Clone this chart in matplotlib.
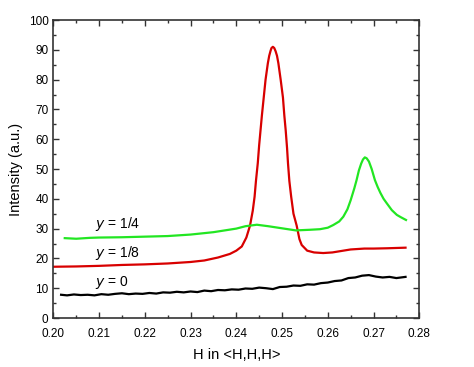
import matplotlib
matplotlib.use('Agg')
import matplotlib.pyplot as plt
from matplotlib.ticker import MultipleLocator

plt.rcParams['font.family'] = ['Liberation Sans', 'DejaVu Sans']

# y = 0 (black)
h_black = [0.2017, 0.2030, 0.2045, 0.2060, 0.2075, 0.2090, 0.2105, 0.2120, 0.2135, 0.2150,
           0.2165, 0.2180, 0.2195, 0.2210, 0.2225, 0.2240, 0.2255, 0.2270, 0.2285, 0.2300,
           0.2315, 0.2330, 0.2345, 0.2360, 0.2375, 0.2390, 0.2405, 0.2420, 0.2435, 0.2450,
           0.2465, 0.2480, 0.2495, 0.2510, 0.2525, 0.2540, 0.2555, 0.2570, 0.2585, 0.2600,
           0.2615, 0.2630, 0.2645, 0.2660, 0.2675, 0.2690, 0.2705, 0.2720, 0.2735, 0.2750,
           0.2770]
i_black = [7.8, 7.6, 7.9, 7.7, 7.8, 7.6, 8.0, 7.8, 8.1, 8.3,
           8.0, 8.2, 8.1, 8.4, 8.2, 8.6, 8.5, 8.8, 8.6, 8.9,
           8.7, 9.2, 9.0, 9.4, 9.3, 9.6, 9.5, 9.9, 9.8, 10.2,
           10.0, 9.7, 10.4, 10.5, 10.9, 10.8, 11.3, 11.2, 11.7, 11.9,
           12.4, 12.6, 13.4, 13.6, 14.2, 14.4, 13.9, 13.6, 13.8, 13.4,
           13.8]

# y = 1/8 (red)
h_red = [0.2000, 0.2050, 0.2100, 0.2150, 0.2200, 0.2250, 0.2300, 0.2330, 0.2360, 0.2386,
         0.2400, 0.2412, 0.2422, 0.2430, 0.2436, 0.2440, 0.2443, 0.2447, 0.2450, 0.2453,
         0.2456, 0.2460, 0.2464, 0.2469, 0.2472, 0.2475, 0.2477, 0.2480, 0.2483, 0.2486,
         0.2489, 0.2492, 0.2497, 0.2502, 0.2505, 0.2508, 0.2511, 0.2513, 0.2516, 0.2520,
         0.2525, 0.2532, 0.2538, 0.2543, 0.2555, 0.2570, 0.2590, 0.2610, 0.2630, 0.2650,
         0.2680, 0.2700, 0.2730, 0.2770]
i_red = [17.2, 17.3, 17.5, 17.8, 18.0, 18.3, 18.8, 19.3, 20.3, 21.5,
         22.6, 24.0, 27.0, 31.0, 36.0, 40.7, 46.0, 52.0, 58.0, 63.0,
         68.0, 74.0, 80.0, 85.5, 88.0, 89.7, 90.6, 91.0, 90.6, 89.5,
         88.0, 85.5, 80.0, 74.0, 68.0, 63.0, 57.0, 52.0, 46.0, 40.7,
         35.0, 31.0, 26.5, 24.5, 22.6, 22.0, 21.8, 22.0, 22.5, 23.0,
         23.3, 23.3, 23.4, 23.6]

# y = 1/4 (green)
h_green = [0.2025, 0.2050, 0.2080, 0.2100, 0.2150, 0.2200, 0.2250, 0.2300, 0.2350, 0.2400,
           0.2420, 0.2445, 0.2470, 0.2500, 0.2530, 0.2560, 0.2583, 0.2600, 0.2612, 0.2625,
           0.2634, 0.2643, 0.2650, 0.2658, 0.2663, 0.2668, 0.2673, 0.2677, 0.2681, 0.2685,
           0.2690, 0.2696, 0.2703, 0.2709, 0.2715, 0.2722, 0.2729, 0.2740, 0.2751, 0.2760,
           0.2771]
i_green = [26.8, 26.6, 26.9, 27.0, 27.1, 27.3, 27.5, 28.0, 28.8, 30.0,
           30.8, 31.3, 30.8, 30.1, 29.4, 29.6, 29.8, 30.3, 31.2, 32.4,
           34.0, 36.5, 39.5, 43.5, 46.3, 49.5, 51.8, 53.2, 53.9, 53.6,
           52.5, 50.0, 46.3, 44.0, 42.0, 40.0, 38.5, 36.2, 34.6, 33.8,
           32.9]

labels = ['$\\it{y}$ = 1/4', '$\\it{y}$ = 1/8', '$\\it{y}$ = 0']
label_pos = [(0.2091, 31.5), (0.2091, 21.8), (0.2091, 11.8)]

fig = plt.figure(figsize=(4.74, 3.67), dpi=100)
ax = fig.add_axes([0.1125, 0.1335, 0.772, 0.812])

ax.plot(h_black, i_black, color='black', lw=1.6)
ax.plot(h_red, i_red, color='#d80000', lw=1.6)
ax.plot(h_green, i_green, color='#22e622', lw=1.6)

for t, (x, y) in zip(labels, label_pos):
    ax.text(x, y, t, fontsize=10, va='center', ha='left')

ax.set_xlim(0.20, 0.28)
ax.set_ylim(0, 100)
ax.xaxis.set_major_locator(MultipleLocator(0.01))
ax.xaxis.set_minor_locator(MultipleLocator(0.005))
ax.yaxis.set_major_locator(MultipleLocator(10))
ax.yaxis.set_minor_locator(MultipleLocator(5))
ax.set_xticklabels(['%.2f' % v for v in ax.get_xticks()])
ax.tick_params(which='both', direction='in', top=True, right=True, labelsize=8.5, width=1.0, color='#333333')
ax.tick_params(which='major', length=4)
ax.tick_params(which='minor', length=2.5)
ax.tick_params(axis='x', pad=7)
for s in ax.spines.values():
    s.set_linewidth(1.2)
    s.set_color('#333333')

ax.set_xlabel('H in <H,H,H>', fontsize=10.5, labelpad=6)
ax.set_ylabel('Intensity (a.u.)', fontsize=10.5, labelpad=4)

fig.savefig('out.png', dpi=100)
